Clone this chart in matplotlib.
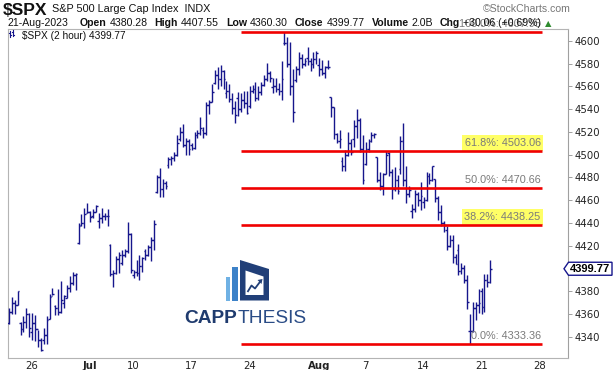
import matplotlib
matplotlib.use('Agg')
import matplotlib.pyplot as plt
from matplotlib.patches import Polygon
from matplotlib.lines import Line2D
from matplotlib.transforms import IdentityTransform
import numpy as np

W, H = 615, 370

# $SPX 2 hour bars, 22-Jun-2023 .. 21-Aug-2023 (4 bars a day, 3 on the 3-Jul half day)
opens = [
    4352, 4362, 4370, 4368,  4352, 4347, 4353, 4360,          # Jun 22, 23
    4344, 4352, 4347, 4337,  4337, 4342, 4356, 4376,          # Jun 26, 27
    4367, 4365, 4362, 4370,  4374, 4383, 4387, 4394,          # Jun 28, 29
    4422, 4438, 4440, 4449,  4450, 4446, 4450,                # Jun 30, Jul 3
    4442, 4444, 4446, 4446,  4421, 4395, 4396, 4408,          # Jul 5, 6
    4404.5, 4412, 4415, 4430,                                 # Jul 7
    4394, 4397, 4396, 4402,  4415, 4412, 4419, 4425,          # Jul 10, 11
    4467, 4480, 4470, 4475,  4491, 4496, 4497, 4500,          # Jul 12, 13
    4514, 4520, 4508, 4512,                                   # Jul 14
    4508, 4506, 4517, 4519,  4522, 4519, 4544, 4546,          # Jul 17, 18
    4563, 4570, 4566, 4573,  4554, 4556, 4549, 4541,          # Jul 19, 20
    4550, 4540, 4548, 4545,                                   # Jul 21
    4543, 4556, 4558, 4550,  4555, 4561, 4566, 4572,          # Jul 24, 25
    4559, 4560, 4558, 4556,  4598, 4598, 4580, 4560,          # Jul 26, 27
    4565.8, 4575, 4585, 4580,                                 # Jul 28
    4584.8, 4582, 4580, 4584,  4578.8, 4575, 4572, 4577,      # Jul 31, Aug 1
    4550.9, 4542, 4518, 4512,  4494.3, 4490, 4500, 4510,      # Aug 2, 3
    4514, 4525, 4530, 4505,                                   # Aug 4
    4491.6, 4505, 4512, 4517,  4498, 4478, 4472, 4483,        # Aug 7, 8
    4501.6, 4485, 4470, 4478,  4487.2, 4512, 4478, 4465,      # Aug 9, 10
    4450.7, 4452, 4465, 4460,                                 # Aug 11
    4458.1, 4460, 4481, 4478,  4478.9, 4462, 4450, 4440,      # Aug 14, 15
    4433.8, 4420, 4425, 4410,  4416.3, 4398, 4400, 4390,      # Aug 16, 17
    4344.9, 4345, 4365, 4368,                                 # Aug 18
    4380.28, 4366, 4390, 4388,                                # Aug 21
]
highs = [
    4365, 4375, 4372, 4380.5,  4353, 4358, 4365, 4361,
    4361, 4359, 4346, 4339,  4347.5, 4358, 4378, 4383,
    4368, 4382, 4389, 4377,  4385.5, 4393, 4396.6, 4396.3,
    4440, 4447.6, 4453, 4457.2,  4450.5, 4452, 4455.8,
    4448.5, 4453, 4448.5, 4452,  4421.2, 4398.7, 4410.9, 4414.7,
    4416.3, 4417, 4440.4, 4431.4,
    4399, 4407.5, 4412, 4410,  4417, 4421, 4428, 4443,
    4482, 4488.3, 4479, 4477,  4498, 4499, 4502, 4517,
    4524, 4527, 4515, 4514,
    4510, 4520, 4522, 4533,  4524, 4546, 4548, 4562,
    4574, 4577, 4578.4, 4574,  4565, 4562, 4554, 4547,
    4555, 4554, 4556, 4556,
    4560, 4561, 4563.4, 4560,  4564, 4570, 4580.6, 4573,
    4567, 4567, 4563, 4582.5,  4607.95, 4603, 4599, 4575,
    4578, 4590.2, 4588, 4585,
    4594.2, 4585, 4590, 4591,  4584.6, 4583, 4578, 4583,
    4550.9, 4542, 4519, 4522,  4498, 4504, 4519.5, 4514,
    4530, 4540.3, 4532, 4517,
    4511, 4514, 4519.8, 4519,  4498, 4485, 4484, 4503.3,
    4502.4, 4487, 4489, 4482,  4516, 4527.4, 4490, 4472,
    4457, 4469, 4467, 4476.2,
    4463, 4485, 4484, 4490.3,  4478.9, 4464, 4456, 4442,
    4437, 4429, 4429.5, 4413,  4421.2, 4404.5, 4403, 4394,
    4360, 4371, 4371, 4381.8,
    4383, 4395, 4395, 4407.55,
]
lows = [
    4351, 4360, 4360, 4368,  4342, 4344, 4347.5, 4340,
    4337, 4336.6, 4331, 4327.6,  4334, 4333.4, 4356, 4376.7,
    4359, 4359, 4360.6, 4365,  4373.8, 4379.6, 4385.5, 4381,
    4421.2, 4437.6, 4435.3, 4448.5,  4441.1, 4444.6, 4449.9,
    4435.3, 4439.7, 4442.6, 4437.4,  4393.4, 4383.5, 4395.2, 4396.3,
    4403.1, 4410.4, 4414, 4396.3,
    4392, 4393.4, 4389.9, 4397,  4407.5, 4411, 4407, 4416,
    4466, 4463, 4463, 4470,  4488, 4491, 4494, 4499,
    4512, 4507, 4500, 4499.6,
    4504, 4505, 4515, 4517,  4514.6, 4517, 4536, 4546,
    4562, 4558, 4560, 4557.5,  4550, 4546, 4536, 4527.6,
    4534, 4537, 4541, 4536,
    4541.3, 4554, 4547, 4548,  4552.4, 4560, 4565, 4564,
    4554, 4555, 4552, 4547.6,  4596, 4577, 4552, 4528.6,
    4564, 4570, 4576, 4578,
    4579, 4573.1, 4576, 4580,  4569, 4570, 4567.5, 4575,
    4533, 4514, 4510, 4505.8,  4485.5, 4486, 4499, 4500,
    4507, 4515, 4502, 4474.6,
    4491.2, 4502, 4511, 4515,  4476, 4469, 4464.4, 4483,
    4481, 4461.3, 4468, 4465,  4483, 4472, 4457.9, 4463,
    4444, 4450, 4455, 4451,
    4453.4, 4459, 4474, 4477,  4458, 4443, 4437, 4432.2,
    4416, 4419, 4405, 4403.6,  4394, 4395, 4387, 4364.8,
    4333.36, 4344, 4355, 4361,
    4360.3, 4362, 4384, 4387,
]
closes = [
    4362, 4370, 4368, 4380,  4347, 4353, 4360, 4348,
    4352, 4347, 4337, 4328,  4342, 4355, 4375, 4378,
    4365, 4362, 4372, 4376,  4383, 4387, 4394, 4395,
    4437, 4440, 4448, 4450,  4445, 4450, 4455,
    4444, 4446, 4446, 4446,  4395, 4396, 4408, 4411.6,
    4412, 4415, 4430, 4399,
    4397, 4396, 4402, 4409,  4412, 4419, 4425, 4439,
    4480, 4470, 4475, 4472,  4496, 4497, 4500, 4510,
    4520, 4508, 4512, 4505,
    4506, 4517, 4519, 4523,  4519, 4544, 4546, 4555,
    4570, 4566, 4573, 4566,  4556, 4549, 4541, 4535,
    4540, 4548, 4545, 4536.3,
    4556, 4558, 4550, 4554.6,  4561, 4566, 4572, 4567.5,
    4560, 4558, 4556, 4566.8,  4598, 4580, 4560, 4537.4,
    4575, 4585, 4580, 4582.2,
    4582, 4580, 4584, 4589,  4575, 4572, 4577, 4576.7,
    4542, 4518, 4512, 4513.4,  4490, 4500, 4510, 4501.9,
    4525, 4530, 4505, 4478,
    4505, 4512, 4517, 4518.4,  4478, 4472, 4483, 4499.4,
    4485, 4470, 4478, 4467.7,  4512, 4478, 4465, 4468.8,
    4452, 4465, 4460, 4464,
    4460, 4481, 4478, 4489.7,  4462, 4450, 4440, 4437.9,
    4420, 4425, 4410, 4404.3,  4398, 4400, 4390, 4370.4,
    4345, 4365, 4368, 4369.7,
    4366, 4390, 4388, 4399.77,
]

# date axis (bar index of each labelled session)
date_ticks = [8, 28, 43, 63, 83, 107, 123, 143, 163, 183]
date_labels = ['26', 'Jul', '10', '17', '24', 'Aug', '7', '14', '21', '28']
price_ticks = list(range(4340, 4601, 20))

# fibonacci retracement, drawn from the 21-Jul bar onward
fib_start = 80
fib_ratios = [1.0, 0.618, 0.5, 0.382, 0.0]
fib_names = ['100.0%', '61.8%', '50.0%', '38.2%', '0.0%']
fib_marked = [False, True, False, True, False]

navy = '#16168c'
red = '#f00000'
grey_txt = '#7a7a7a'

fig = plt.figure(figsize=(W / 100, H / 100), dpi=100)
ax = fig.add_axes([8 / W, 12 / H, 560 / W, 329 / H])

x = np.arange(len(closes))
ax.vlines(x, lows, highs, color=navy, lw=1.0, zorder=3)
ax.hlines(opens, x - 0.6, x, color=navy, lw=1.0, zorder=3)
ax.hlines(closes, x, x + 0.6, color=navy, lw=1.0, zorder=3)

ax.set_xlim(-0.34, 192.8)
ax.set_ylim(4321.4, 4610.3)

# fib lines and their labels
fib_hi, fib_lo = max(highs[fib_start:]), min(lows[fib_start:])
for r, name, marked in zip(fib_ratios, fib_names, fib_marked):
    lvl = fib_lo + r * (fib_hi - fib_lo)
    ax.hlines(lvl, fib_start, 183.7, color=red, lw=1.9, zorder=5)
    bb = dict(boxstyle='square,pad=0.25', fc='#ffff66', ec='none') if marked else None
    ax.annotate(f'{name}: {lvl + 1e-6:.2f}', xy=(183.4, lvl), xytext=(0, 2.2),
                textcoords='offset points', ha='right', va='bottom',
                fontsize=7.8, family='Liberation Sans', color=grey_txt,
                bbox=bb, zorder=4, annotation_clip=False)

# axes styling
for s in ['left', 'top', 'bottom']:
    ax.spines[s].set_color('#b4b4b4')
ax.spines['right'].set_color('#a0a0a0')
ax.spines['right'].set_linestyle((0, (1, 1)))
ax.yaxis.tick_right()
ax.set_yticks(price_ticks)
ax.tick_params(axis='y', length=3, width=0.7, color='#a0a0a0', pad=1.5,
               labelsize=7.3, labelcolor='#222222')
ax.set_xticks(date_ticks)
ax.set_xticklabels(date_labels)
ax.tick_params(axis='x', length=0, pad=2, labelsize=7.3, labelcolor='#222222')
for lab in ax.get_xticklabels():
    if lab.get_text() in ('Jul', 'Aug'):
        lab.set_fontweight('bold')
# the last-price tag sits over the nearest price label
for val, lab in zip(price_ticks, ax.get_yticklabels()):
    if abs(val - closes[-1]) < 8:
        lab.set_visible(False)

# legend inside the plot
ax.text(0.025, 0.993, '$SPX (2 hour) 4399.77', transform=ax.transAxes, ha='left', va='top',
        fontsize=7.3, family='Liberation Sans', color='#111111')
ic = IdentityTransform()
for seg in [[(10, 31), (10, 37)], [(9, 33), (10, 33)], [(10, 35), (11, 35)],
            [(13, 30), (13, 36)], [(12, 32), (13, 32)], [(13, 35), (14, 35)]]:
    fig.add_artist(Line2D([p[0] for p in seg], [H - p[1] for p in seg], transform=ic,
                          color=navy, lw=0.8))

# header
fig.text(3 / W, 1 - 15 / H, '$SPX', fontsize=12.5, fontweight='bold', family='Liberation Sans',
         va='baseline', color='#111111')
fig.text(52 / W, 1 - 12.5 / H, 'S&P 500 Large Cap Index  INDX', fontsize=7.8,
         family='Liberation Sans', va='baseline', color='#111111')
fig.text(571 / W, 1 - 12 / H, '\u00a9StockCharts.com', fontsize=7.6, family='Liberation Sans',
         va='baseline', ha='right', color='#777777')

fig.canvas.draw()
rend = fig.canvas.get_renderer()
pieces = [('21-Aug-2023', False, 12), ('Open', True, 3), ('4380.28', False, 7),
          ('High', True, 3), ('4407.55', False, 7), ('Low', True, 3), ('4360.30', False, 7),
          ('Close', True, 3), ('4399.77', False, 7), ('Volume', True, 3), ('2.0B', False, 7),
          ('Chg', True, 3), ('+30.06 (+0.69%)', False, 4)]
xp = 7
for txt, bold, gap in pieces:
    t = fig.text(xp / W, 1 - 26 / H, txt, fontsize=7.6, family='Liberation Sans',
                 fontweight='bold' if bold else 'normal', va='baseline', color='#111111')
    xp = t.get_window_extent(renderer=rend).x1 + gap
fig.text(xp / W, 1 - 26 / H, '\u25b2', fontsize=6, family='DejaVu Sans', va='baseline',
         color='#2e8b2e')

# last price tag on the right axis
yl = ax.transData.transform((0, closes[-1]))[1]
tag = Polygon([(564, yl), (568.5, yl + 6.5), (612, yl + 6.5), (612, yl - 6.5), (568.5, yl - 6.5)],
              closed=True, transform=ic, fc='white', ec=navy, lw=1.0, zorder=10)
fig.add_artist(tag)
fig.text(590 / W, yl / H, f'{closes[-1]:.2f}', fontsize=8, fontweight='bold',
         family='Liberation Sans', ha='center', va='center', color='#000000', zorder=11)

# CAPPTHESIS watermark
lax = fig.add_axes([180 / W, 1 - 332 / H, 140 / W, 77 / H])
lax.set_xlim(180, 320)
lax.set_ylim(332, 255)
lax.axis('off')
lax.add_patch(Polygon([(226, 277), (230.5, 277), (230.5, 300.5), (226, 300.5)], fc='#6fb1e4', ec='none'))
lax.add_patch(Polygon([(232, 267), (238, 267), (238, 300.5), (232, 300.5)], fc='#3d82c8', ec='none'))
lax.add_patch(Polygon([(240, 260), (269, 269), (269, 300.5), (240, 300.5)], fc='#213f78', ec='none'))
lax.add_patch(Polygon([(245.5, 270.5), (263.5, 276.5), (263.5, 295), (245.5, 295)], fc='white', ec='none'))
lax.plot([247.5, 251.5, 255, 261], [292, 285.5, 288.5, 280.5], color='#213f78', lw=1.3,
         solid_capstyle='butt')
lax.add_patch(Polygon([(262.5, 279), (257.5, 280), (261.5, 284)], fc='#213f78', ec='none'))
c1 = lax.text(184, 323, 'CAPP', fontsize=13.8, fontweight='bold', family='Liberation Sans',
              color='#1f3b6e', va='baseline')
fig.canvas.draw()
x1 = lax.transData.inverted().transform(c1.get_window_extent(renderer=fig.canvas.get_renderer()))[1][0]
lax.text(x1 + 0.5, 323, 'THESIS', fontsize=13.8, family='Liberation Sans', color='#2a4c86',
         va='baseline')

fig.savefig('out.png', dpi=100)
